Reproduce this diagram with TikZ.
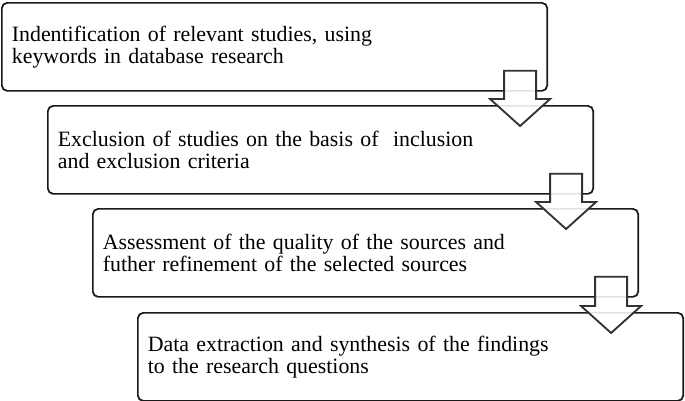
\documentclass[tikz,border=0pt]{standalone}
\usepackage{fontspec}
\setmainfont{Liberation Serif}
\usetikzlibrary{calc}

\begin{document}
\begin{tikzpicture}[x=0.75pt,y=-0.75pt,
    stepbox/.style={draw=black!90,line width=1.3pt,rounded corners=4pt,
        minimum width=409pt,minimum height=66pt,inner xsep=7.5pt,
        text width=394pt,align=left,anchor=north west,
        font=\fontsize{16.4}{16.5}\selectfont},
    downarrow/.style={draw=black!80,line width=1.4pt,fill=white,fill opacity=0.88}]

    % Frame
    \useasboundingbox (0,0) rectangle (685,400);

    % Steps
    \node[stepbox] (search) at (1,2) {Indentification of relevant studies, using\\ keywords in database research};
    \node[stepbox] (exclude) at (47,105) {Exclusion of studies on the basis of~ inclusion\\ and exclusion criteria};
    \node[stepbox] (assess) at (92,208) {Assessment of the quality of the sources and\\ futher refinement of the selected sources};
    \node[stepbox] (extract) at (137,312) {Data extraction and synthesis of the findings\\ to the research questions};

    % Arrows between steps
    \foreach \from/\to in {search/exclude,assess/extract,exclude/assess}{
        \coordinate (c) at ($(\from.south east)+(-28,0)$);
        \draw[downarrow] ($(c)+(-16,-21)$) -- ($(c)+(16,-21)$)
            -- ($(c |- \to.north)+(16,-6)$) -- ($(c |- \to.north)+(30,-6)$)
            -- ($(c |- \to.north)+(0,21)$) -- ($(c |- \to.north)+(-30,-6)$)
            -- ($(c |- \to.north)+(-16,-6)$) -- cycle;
    }

\end{tikzpicture}
\end{document}
